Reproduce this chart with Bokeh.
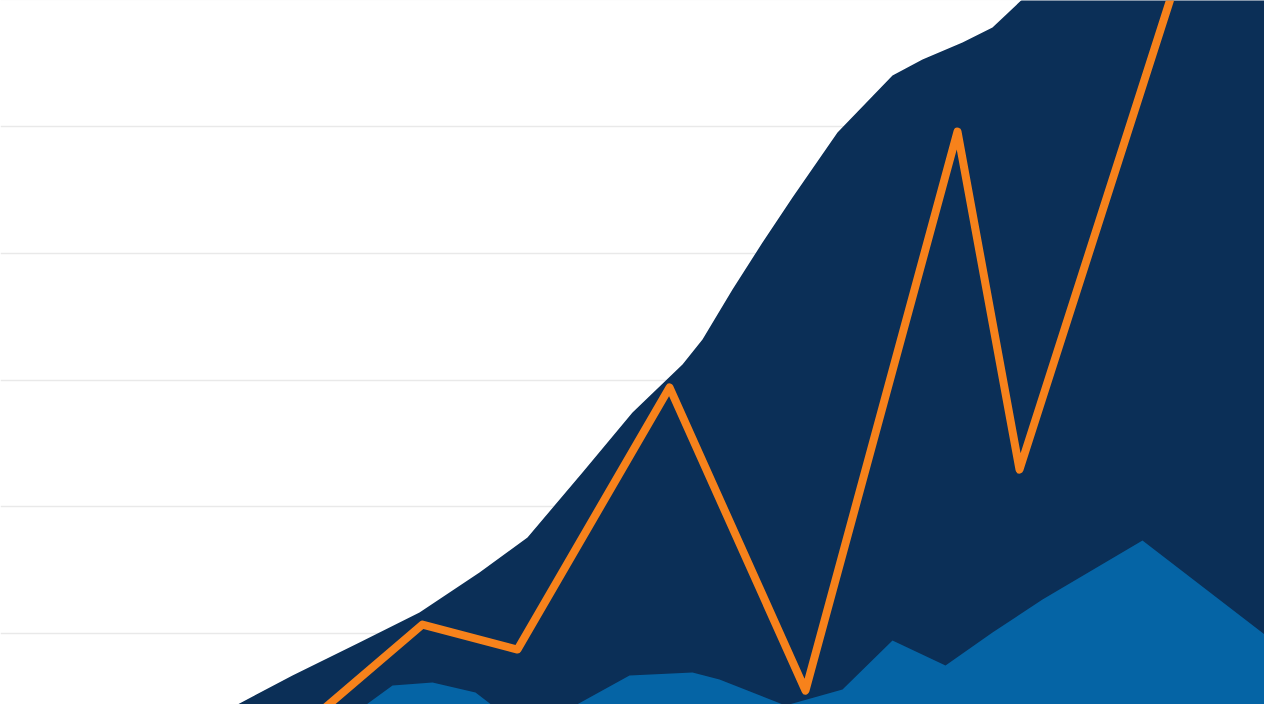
from bokeh.plotting import figure
from bokeh.models import FixedTicker, Range1d
from bokeh.embed import file_html
from bokeh.resources import INLINE

# ---- data (x in time units, y in value units) ----
total_x = [3.6, 4.6, 6.0, 7.34, 8.54, 9.74, 10.7, 11.8, 12.8, 13.8, 14.2, 14.8, 15.4,
           16.0, 16.9, 18.0, 18.6, 19.4, 20.0, 20.74, 22.0, 26.0]
total_y = [1.0, 3.77, 6.69, 9.29, 11.66, 14.81, 17.58, 22.71, 27.44, 31.23, 33.21, 37.15, 40.86,
           44.41, 49.54, 54.04, 55.30, 56.65, 57.83, 60.59, 65.3, 68.5]

part_x = [6.4, 7.26, 8.0, 8.8, 9.66, 10.0, 10.8, 11.4, 12.74, 14.0, 14.54, 15.86, 17.0,
          18.0, 19.06, 20.0, 21.0, 23.0, 25.6, 26.4]
part_y = [1.79, 3.77, 5.90, 6.13, 5.35, 4.32, 3.14, 3.77, 6.69, 6.93, 6.37, 4.32, 5.58,
          9.45, 7.48, 10.08, 12.68, 17.34, 9.45, 7.08]

line_x = [6.0, 8.6, 10.5, 13.54, 16.26, 19.3, 20.54, 24.6]
line_y = [1.95, 10.71, 8.74, 29.42, 5.50, 49.62, 22.94, 72.9]

grid_ticks = [10, 20, 30, 40, 50, 60]

p = figure(width=1264, height=704, output_backend="svg", toolbar_location=None,
           x_range=Range1d(0.16, 25.44), y_range=Range1d(4.40, 59.96),
           min_border=0, outline_line_color=None, background_fill_color="white",
           border_fill_color="white")

p.xaxis.visible = False
p.yaxis.visible = False
p.xgrid.visible = False
p.ygrid.ticker = FixedTicker(ticks=grid_ticks)
p.ygrid.grid_line_color = "#e9e9e9"
p.ygrid.grid_line_width = 1.5

p.varea(x=total_x, y1=0, y2=total_y, fill_color="#0b2f57")
p.varea(x=part_x, y1=0, y2=part_y, fill_color="#0564a5")
p.line(x=line_x, y=line_y, line_color="#f7821b", line_width=8, line_join="round", line_cap="round")

open("out.html", "w").write(file_html(p, INLINE))
